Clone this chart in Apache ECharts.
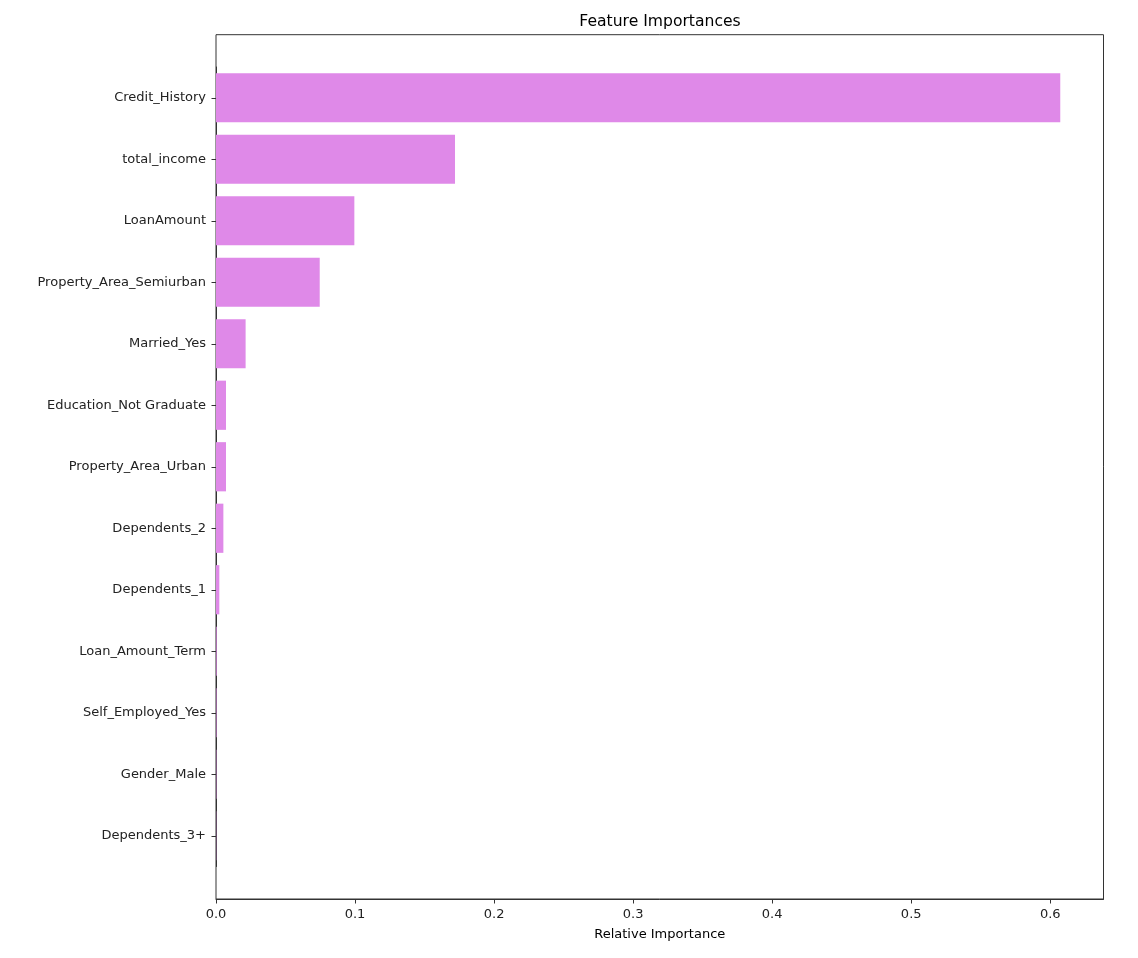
<!DOCTYPE html>
<html>
<head>
<meta charset="utf-8">
<title>Feature Importances</title>
<script src="https://cdn.jsdelivr.net/npm/echarts@6/dist/echarts.min.js"></script>
<style>
  html, body { margin: 0; padding: 0; background: #fff; }
  #chart { width: 1138px; height: 958px; }
</style>
</head>
<body>
<div id="chart"></div>
<script>
// data, top to bottom as in the picture
var features = [
  'Credit_History', 'total_income', 'LoanAmount', 'Property_Area_Semiurban',
  'Married_Yes', 'Education_Not Graduate', 'Property_Area_Urban', 'Dependents_2',
  'Dependents_1', 'Loan_Amount_Term', 'Self_Employed_Yes', 'Gender_Male', 'Dependents_3+'
];
var importances = [
  0.6072, 0.1719, 0.0995, 0.0746,
  0.0213, 0.0072, 0.0072, 0.0053,
  0.0024, 0.0005, 0.0004, 0.0003, 0.0002
];
var xTicks = [0, 0.1, 0.2, 0.3, 0.4, 0.5, 0.6];

var font = 'DejaVu Sans';
var xMax = 0.6383;

var chart = echarts.init(document.getElementById('chart'));

var option = {
  animation: false,
  textStyle: { fontFamily: font },
  title: {
    text: 'Feature Importances',
    left: 660,
    top: 14,
    padding: 0,
    textAlign: 'center',
    textStyle: { fontFamily: font, fontSize: 15.6, fontWeight: 'normal', color: '#000' }
  },
  grid: [
    // frame of the axes
    { left: 216, right: 34.5, top: 34.7, bottom: 59, show: true, borderColor: '#333', borderWidth: 1, backgroundColor: 'transparent' },
    // bars area, padded like matplotlib margins
    { left: 216, right: 34.5, top: 67, bottom: 91.5 }
  ],
  xAxis: [
    {
      gridIndex: 0,
      type: 'value',
      min: 0,
      max: xMax,
      interval: 0.1,
      name: 'Relative Importance',
      nameLocation: 'middle',
      nameGap: 29,
      nameTextStyle: { fontFamily: font, fontSize: 13, color: '#000' },
      axisLine: { show: true, lineStyle: { color: '#333', width: 1 } },
      axisTick: { show: true, length: 4.5, lineStyle: { color: '#333' } },
      axisLabel: {
        margin: 9,
        fontSize: 13,
        color: '#222',
        fontFamily: font,
        showMaxLabel: false,
        formatter: function (v) {
          return xTicks.indexOf(Math.round(v * 10) / 10) >= 0 ? v.toFixed(1) : '';
        }
      },
      splitLine: { show: false }
    },
    {
      gridIndex: 1,
      type: 'value',
      min: 0,
      max: xMax,
      show: false
    }
  ],
  yAxis: [
    { gridIndex: 0, type: 'value', min: 0, max: 1, show: false },
    {
      gridIndex: 1,
      type: 'category',
      inverse: true,
      data: features,
      axisLine: { show: true, lineStyle: { color: '#333', width: 1 } },
      axisTick: { show: true, alignWithLabel: true, length: 4.5, lineStyle: { color: '#333' } },
      axisLabel: { margin: 10, fontSize: 13, color: '#222', fontFamily: font, padding: [4, 0, 0, 0] },
      splitLine: { show: false }
    }
  ],
  series: [
    {
      type: 'bar',
      xAxisIndex: 1,
      yAxisIndex: 1,
      data: importances,
      barWidth: '80%',
      itemStyle: { color: '#DF89E8' }
    }
  ]
};

option && chart.setOption(option);
</script>
</body>
</html>
